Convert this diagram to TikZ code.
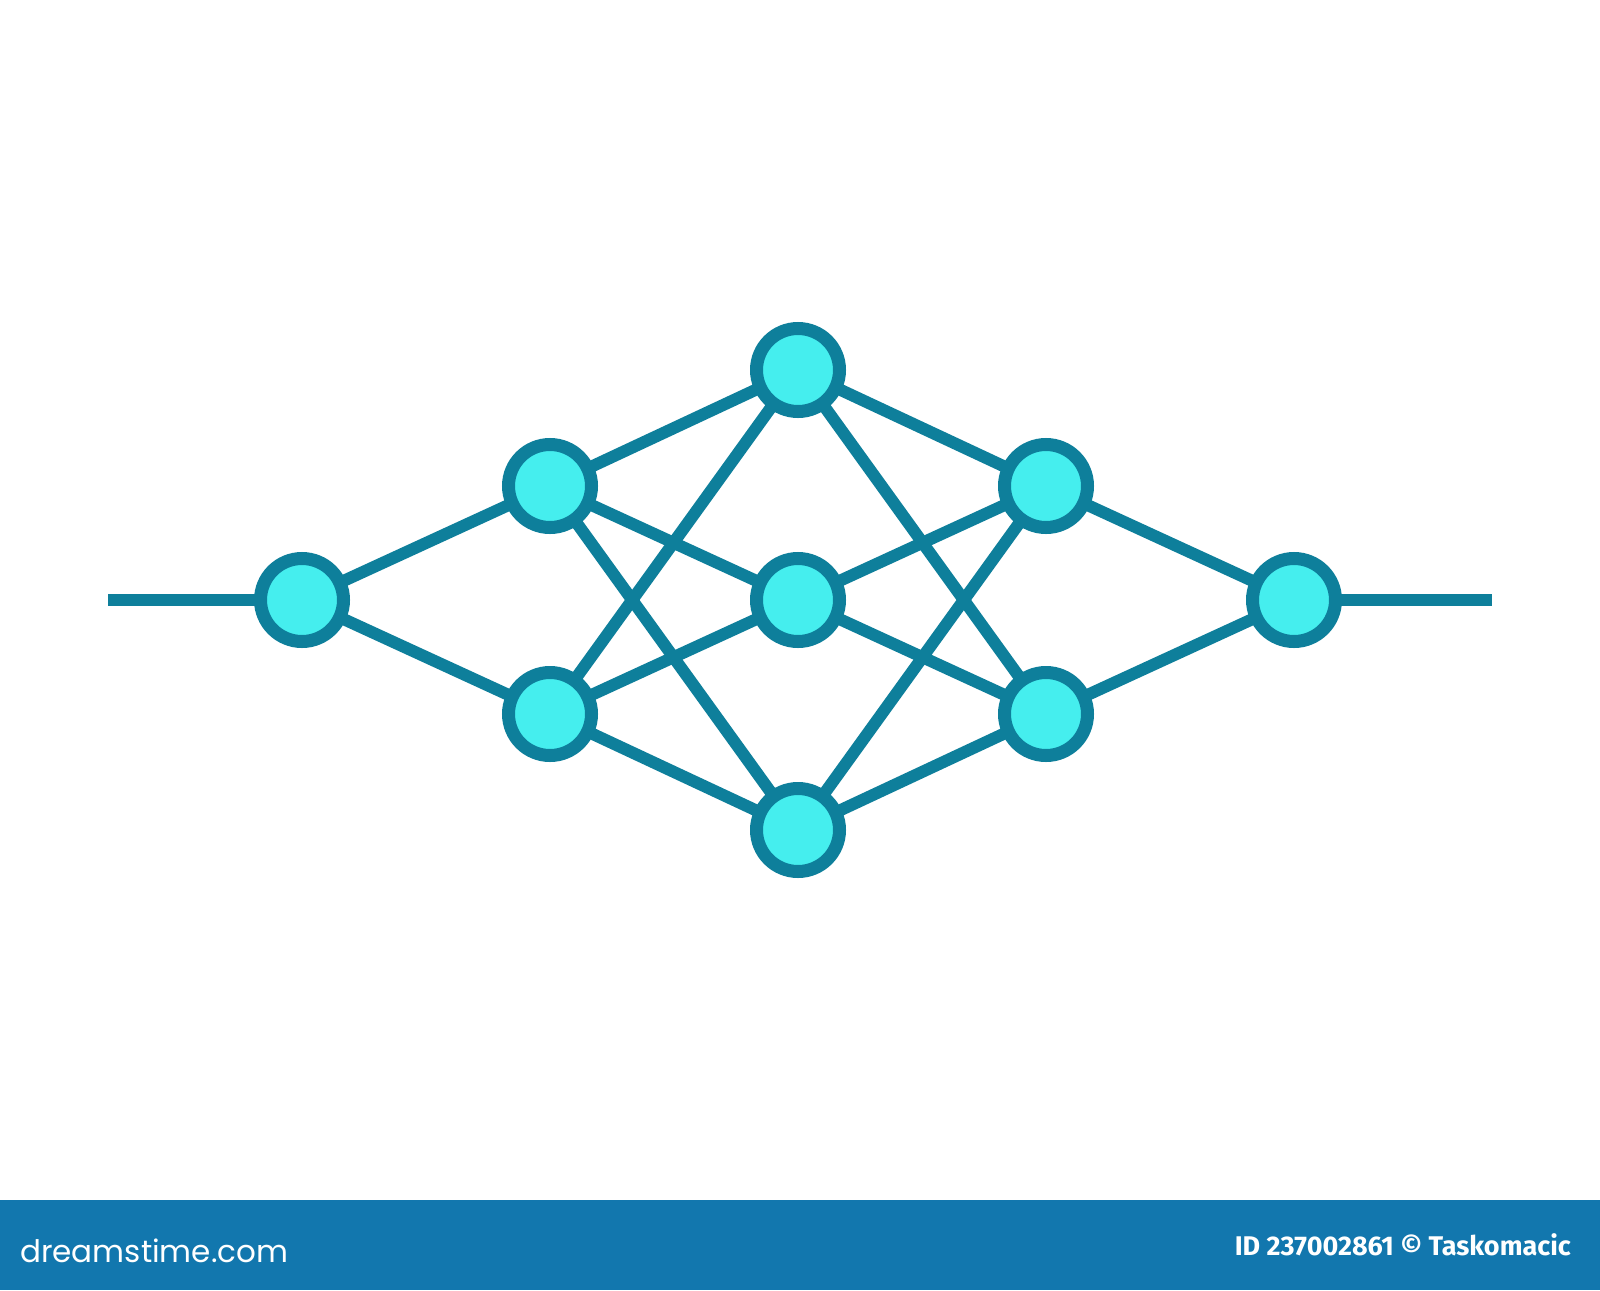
\documentclass[tikz,border=0pt]{standalone}
\usepackage{fontspec}
\setmainfont{Liberation Sans}
\newfontfamily\logofont{Poppins}
\newfontfamily\idfont{Fira Sans}
\definecolor{edgeteal}{HTML}{0E7F9B}
\definecolor{nodefill}{HTML}{45EEEE}
\definecolor{banner}{HTML}{1277AE}
\begin{document}
\begin{tikzpicture}[x=1pt,y=-1pt,
  neuron/.style={circle,draw=edgeteal,fill=nodefill,line width=13pt,minimum size=83pt,inner sep=0pt},
  link/.style={draw=edgeteal,line width=12pt},
  bannertext/.style={text=white,inner sep=0pt}]
\useasboundingbox (0,0) rectangle (1600,1290);
\fill[white] (0,0) rectangle (1600,1290);
\fill[banner] (0,1200) rectangle (1600,1290);
% coordinates
\coordinate (in) at (108,600);
\coordinate (out) at (1492,600);
\coordinate (pA) at (302,600);
\coordinate (pB1) at (550,486);
\coordinate (pB2) at (550,714);
\coordinate (pC1) at (798,370);
\coordinate (pC2) at (798,600);
\coordinate (pC3) at (798,830);
\coordinate (pD1) at (1046,486);
\coordinate (pD2) at (1046,714);
\coordinate (pE) at (1294,600);
% connectors
\draw[link] (in) -- (pA);
\draw[link] (pE) -- (out);
\foreach \b in {pB1,pB2}{\draw[link] (pA) -- (\b);}
\foreach \b in {pB1,pB2}{\foreach \c in {pC1,pC2,pC3}{\draw[link] (\b) -- (\c);}}
\foreach \c in {pC1,pC2,pC3}{\foreach \d in {pD1,pD2}{\draw[link] (\c) -- (\d);}}
\foreach \d in {pD1,pD2}{\draw[link] (\d) -- (pE);}
% nodes
\node[neuron] (A) at (pA) {};
\node[neuron] (B1) at (pB1) {};
\node[neuron] (B2) at (pB2) {};
\node[neuron] (C1) at (pC1) {};
\node[neuron] (C2) at (pC2) {};
\node[neuron] (C3) at (pC3) {};
\node[neuron] (D1) at (pD1) {};
\node[neuron] (D2) at (pD2) {};
\node[neuron] (E) at (pE) {};
% banner text
\node[bannertext,anchor=base west] (logo) at (20,1262) {\fontsize{31}{31}\selectfont\logofont dreamstime.com};
\node[bannertext,anchor=east] (credit) at (1571,1245) {\fontsize{27}{27}\selectfont\bfseries\idfont ID 237002861 © Taskomacic};
\end{tikzpicture}
\end{document}
